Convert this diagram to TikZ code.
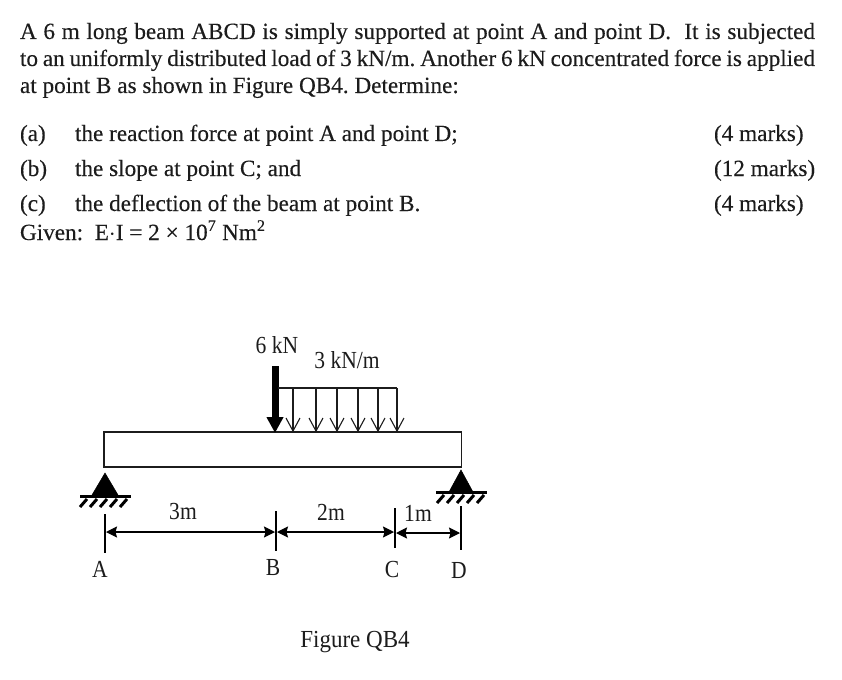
\documentclass[tikz,border=0pt]{standalone}
\usepackage{fontspec}
\setmainfont[FakeBold=0.25]{Liberation Serif}
\newfontfamily\labfont[FakeStretch=0.88]{Liberation Serif}
\newfontfamily\figfont[FakeStretch=0.94]{Liberation Serif}
\usetikzlibrary{arrows.meta}
\definecolor{ink}{HTML}{1C1C1C}
\tikzset{
  x=1pt,y=-1pt,
  txt/.style={anchor=base west,inner sep=0pt,outer sep=0pt,text=ink,font=\fontsize{23.2}{27}\selectfont},
  lab/.style={inner sep=0pt,outer sep=0pt,text=ink,font=\labfont\fontsize{24.5}{28}\selectfont},
  figlab/.style={inner sep=0pt,outer sep=0pt,text=ink,font=\figfont\fontsize{24.5}{28}\selectfont},
  beam/.style={draw=ink,line width=1.5pt},
  tick/.style={draw=black,line width=1.7pt},
  dim/.style={draw=black,line width=1.3pt,{Stealth[length=11pt,width=11pt,inset=1.5pt]}-{Stealth[length=11pt,width=11pt,inset=1.5pt]},shorten <=1pt,shorten >=1pt},
  udl/.style={draw=ink,line width=1.1pt,line join=miter},
  force/.style={draw=black,line width=7pt,-{Triangle[length=16pt,width=16pt]}},
  pin/.style={fill=black,draw=black,line width=.5pt},
  ground/.style={draw=black,line width=3pt},
  hatch/.style={draw=black,line width=3pt}
}
\begin{document}
\begin{tikzpicture}
\useasboundingbox[fill=white] (0,0) rectangle (842,679);
% question text
\node[txt] (l1) at (20,39) {\makebox[795pt][s]{\frenchspacing A 6 m long beam ABCD is simply supported at point A and point D.\ \ It is subjected}};
\node[txt] (l2) at (20,66) {\makebox[795pt][s]{\frenchspacing to an uniformly distributed load of 3 kN/m. Another 6 kN concentrated force is applied}};
\node[txt] (l3) at (20,93) {\frenchspacing at point B as shown in Figure QB4. Determine:};
\node[txt] (pa) at (20,141) {(a)};
\node[txt] (qa) at (75,141) {the reaction force at point A and point D;};
\node[txt] (ma) at (714,141) {(4 marks)};
\node[txt] (pb) at (20,176) {(b)};
\node[txt] (qb) at (75,176) {the slope at point C; and};
\node[txt] (mb) at (714,176) {(12 marks)};
\node[txt] (pc) at (20,211) {(c)};
\node[txt] (qc) at (75,211) {the deflection of the beam at point B.};
\node[txt] (mc) at (714,211) {(4 marks)};
\node[txt] (given) at (20,240) {Given:\ \ E$\cdot$I = 2 × 10\textsuperscript{7} Nm\textsuperscript{2}};
% beam
\draw[beam] (104,432) rectangle (461.5,467);
% point load
\coordinate (ft) at (275,366);
\coordinate (fb) at (275,433);
\draw[force] (ft) -- (fb);
% distributed load
\coordinate (ul) at (278,388);
\coordinate (ur) at (397,388);
\draw[draw=ink,line width=1.1pt] (ul) -- (ur);
\foreach \n/\px in {a/293,b/316,c/337,d/358,e/378,f/397}{
  \coordinate (u\n) at (\px,388);
  \coordinate (v\n) at (\px,431);
  \draw[udl] (u\n) -- (v\n);
  \draw[udl] (\px-7,418) -- (v\n) -- (\px+7,418);
}
% support A
\coordinate (sa) at (105,473);
\fill[pin] (sa) -- (118,495) -- (92,495) -- cycle;
\draw[ground] (80,496) -- (131,496);
\foreach \px in {80,90,100,110,120}{\draw[hatch] (\px,507) -- (\px+7,499);}
% support D
\coordinate (sd) at (461,470);
\fill[pin] (sd) -- (473,492) -- (449,492) -- cycle;
\draw[ground] (436,492) -- (487,492);
\foreach \px in {437,447,457,467,477}{\draw[hatch] (\px,503) -- (\px+7,495);}
% dimension ticks
\coordinate (ta1) at (105,514); \coordinate (ta2) at (105,553);
\coordinate (tb1) at (276,511); \coordinate (tb2) at (276,551);
\coordinate (tc1) at (395,508); \coordinate (tc2) at (395,548);
\coordinate (td1) at (461,506); \coordinate (td2) at (461,550);
\draw[tick] (ta1) -- (ta2);
\draw[tick] (tb1) -- (tb2);
\draw[tick] (tc1) -- (tc2);
\draw[tick] (td1) -- (td2);
% dimension lines
\coordinate (da) at (105,532); \coordinate (db) at (276,532);
\coordinate (dc) at (395,532); \coordinate (dc2) at (395,533);
\coordinate (dd) at (461,533);
\draw[dim] (da) -- (db);
\draw[dim] (db) -- (dc);
\draw[dim] (dc2) -- (dd);
% labels
\node[lab] (k6) at (277,345) {6 kN};
\node[lab] (k3) at (347,360) {3 kN/m};
\node[lab] (d3) at (183,512) {3m};
\node[lab] (d2) at (331,512) {2m};
\node[lab] (d1) at (418,513) {1m};
\node[lab] (na) at (100,569) {A};
\node[lab] (nb) at (273,568) {B};
\node[lab] (nc) at (392,570) {C};
\node[lab] (nd) at (459,570) {D};
\node[figlab] (fig) at (355,642) {Figure QB4};
\end{tikzpicture}
\end{document}
